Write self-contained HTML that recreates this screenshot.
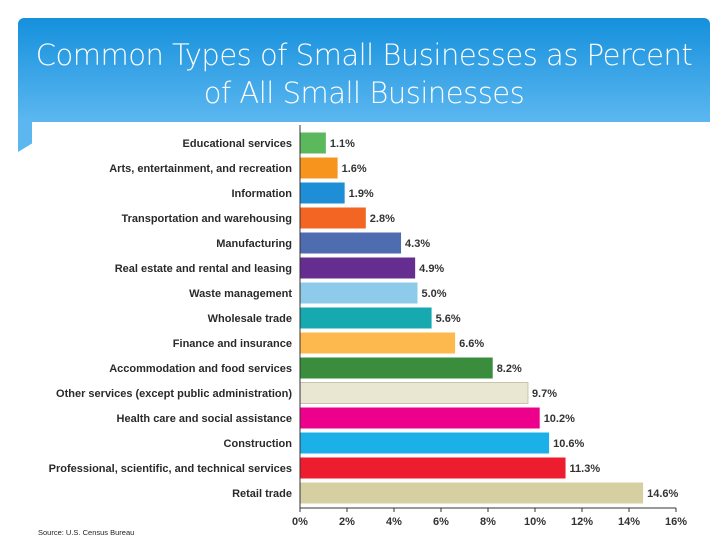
<!DOCTYPE html>
<html><head><meta charset="utf-8"><style>
body{margin:0;width:720px;height:540px;overflow:hidden;background:#fff;font-family:"Liberation Sans",sans-serif}
#hdr{position:absolute;left:18px;top:18px;width:692px;height:104px;border-radius:6px 6px 0 0;background:linear-gradient(#1590dc,#5cb7f0)}
#tail{position:absolute;left:18px;top:118px;width:14px;height:34px;background:#5cb7f0;clip-path:polygon(0 0,100% 0,100% 75%,0 100%)}
#title{position:absolute;left:18px;top:36px;width:692px;text-align:center;color:#fff;font-size:29px;line-height:38px;font-family:"DejaVu Sans","Liberation Sans",sans-serif;font-weight:300;letter-spacing:-0.5px}
#white{position:absolute;left:32px;top:122px;width:560px;height:418px;background:#fff}
svg{position:absolute;left:0;top:0}
</style></head><body>
<div id="hdr"></div>
<div id="tail"></div>
<div id="title">Common Types of Small Businesses as Percent<br>of All Small Businesses</div>
<div id="white"></div>
<svg id="chart" width="720" height="540"></svg>
<script>
const categories=["Educational services","Arts, entertainment, and recreation","Information","Transportation and warehousing","Manufacturing","Real estate and rental and leasing","Waste management","Wholesale trade","Finance and insurance","Accommodation and food services","Other services (except public administration)","Health care and social assistance","Construction","Professional, scientific, and technical services","Retail trade"];
const values=[1.1,1.6,1.9,2.8,4.3,4.9,5.0,5.6,6.6,8.2,9.7,10.2,10.6,11.3,14.6];
const colors=["#5cb85c","#f7941d","#1e8fd6","#f26522","#4f6cb0","#662d91","#8ecbea","#17a9b0","#fdb94e","#3a8d3c","#e9e6d2","#ec008c","#1cb0e8","#ed1c2e","#d6cfa2"];
const ticks=[0,2,4,6,8,10,12,14,16];
const svg=document.getElementById('chart');const NS="http://www.w3.org/2000/svg";
const x0=300,x1=676,xmax=16;
const xs=v=>x0+(x1-x0)*v/xmax;
const ys=i=>143+i*25;
function mk(t,a){const e=document.createElementNS(NS,t);for(const k in a)e.setAttribute(k,a[k]);svg.appendChild(e);return e;}
categories.forEach((c,i)=>{
 const r=mk('rect',{x:xs(0),y:ys(i)-10.5,width:xs(values[i])-xs(0),height:21,fill:colors[i],stroke:i==10?'#c8c4b0':'none'});
 
 
 const l=mk('text',{x:292,y:ys(i)+4,'text-anchor':'end','font-size':'11','font-weight':'bold',fill:'#2a2a2a'});
 l.textContent=c;
 
 
 const v=mk('text',{x:xs(values[i])+4,y:ys(i)+4,'font-size':'11','font-weight':'bold',fill:'#333'});
 v.textContent=values[i].toFixed(1)+'%';
 
 
});
const ax=mk('line',{x1:x0,y1:125,x2:x0,y2:508,stroke:'#333','stroke-width':1});


const bx=mk('line',{x1:x0,y1:508,x2:x1,y2:508,stroke:'#333','stroke-width':1});


ticks.forEach(t=>{
 const tk=mk('line',{x1:xs(t),y1:508,x2:xs(t),y2:512,stroke:'#333'});
 
 
 const tl=mk('text',{x:xs(t),y:525,'text-anchor':'middle','font-size':'11','font-weight':'bold',fill:'#333'});
 tl.textContent=t+'%';
 
 
});
const src=mk('text',{x:38,y:535,'font-size':'7.5',fill:'#222'});
src.textContent='Source: U.S. Census Bureau';


</script>
</body></html>
